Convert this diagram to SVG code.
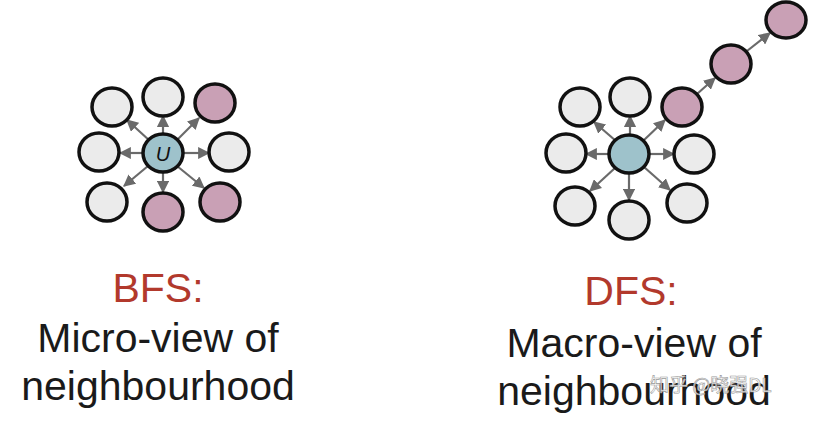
<svg xmlns="http://www.w3.org/2000/svg" width="829" height="421" viewBox="0 0 829 421">
<style>
.n{stroke:#111;stroke-width:3.5}
.g{fill:#ebebeb}.p{fill:#c9a0b5}.b{fill:#9ec2cb}
.e{stroke:#6a6a6a;stroke-width:2.2;fill:none;marker-end:url(#a)}
.t{font-family:"Liberation Sans",Arial,sans-serif;font-size:41px;text-anchor:middle;fill:#1a1a1a}
.r{fill:#b2392c}
</style>
<defs><marker id="a" viewBox="0 0 10 10" refX="9" refY="5" markerWidth="5.5" markerHeight="5.5" orient="auto" markerUnits="strokeWidth"><path d="M0,0L10,5L0,10z" fill="#6a6a6a"/></marker></defs>
<rect width="829" height="421" fill="#fff"/>
<g id="connectors">
<path class="e" d="M150,141L127,120"/><path class="e" d="M163,134L163,116"/><path class="e" d="M176,141L199,118"/>
<path class="e" d="M143,153L120,153"/><path class="e" d="M183,153L209,153"/>
<path class="e" d="M148,166L124,186"/><path class="e" d="M163,173L163,192"/><path class="e" d="M177,166L204,188"/>
<path class="e" d="M616,141L594,122"/><path class="e" d="M630,134L630,116"/><path class="e" d="M643,141L665,120"/>
<path class="e" d="M609,154L586,154"/><path class="e" d="M649,154L674,154"/>
<path class="e" d="M615,168L590,191"/><path class="e" d="M629,174L629,200"/><path class="e" d="M644,167L670,190"/>
<path class="e" d="M697,94L715,78"/><path class="e" d="M747,51L770,33"/>
</g>
<g id="bfs-u"><ellipse class="n b" cx="163" cy="153" rx="20" ry="19"/><text x="163" y="161" font-family="Liberation Sans,sans-serif" font-size="20" font-style="italic" text-anchor="middle" fill="#111">U</text></g>
<g id="bfs-1"><ellipse class="n g" cx="112" cy="107" rx="20" ry="19"/></g>
<g id="bfs-2"><ellipse class="n g" cx="163" cy="97" rx="20" ry="19"/></g>
<g id="bfs-3"><ellipse class="n p" cx="215" cy="103" rx="20" ry="19"/></g>
<g id="bfs-4"><ellipse class="n g" cx="99" cy="152" rx="20" ry="19"/></g>
<g id="bfs-5"><ellipse class="n g" cx="229" cy="152" rx="20" ry="19"/></g>
<g id="bfs-6"><ellipse class="n g" cx="107" cy="202" rx="20" ry="19"/></g>
<g id="bfs-7"><ellipse class="n p" cx="163" cy="212" rx="20" ry="19"/></g>
<g id="bfs-8"><ellipse class="n p" cx="220" cy="202" rx="20" ry="19"/></g>
<g id="dfs-u"><ellipse class="n b" cx="629" cy="154" rx="20" ry="19"/></g>
<g id="dfs-1"><ellipse class="n g" cx="580" cy="107" rx="20" ry="19"/></g>
<g id="dfs-2"><ellipse class="n g" cx="630" cy="97" rx="20" ry="19"/></g>
<g id="dfs-3"><ellipse class="n p" cx="682" cy="107" rx="20" ry="19"/></g>
<g id="dfs-4"><ellipse class="n g" cx="566" cy="153" rx="20" ry="19"/></g>
<g id="dfs-5"><ellipse class="n g" cx="694" cy="154" rx="20" ry="19"/></g>
<g id="dfs-6"><ellipse class="n g" cx="575" cy="206" rx="20" ry="19"/></g>
<g id="dfs-7"><ellipse class="n g" cx="629" cy="220" rx="20" ry="19"/></g>
<g id="dfs-8"><ellipse class="n g" cx="687" cy="203" rx="20" ry="19"/></g>
<g id="dfs-9"><ellipse class="n p" cx="731" cy="64" rx="20" ry="19"/></g>
<g id="dfs-10"><ellipse class="n p" cx="786" cy="20" rx="20" ry="18"/></g>
<g id="labels">
<text class="t r" x="158" y="302">BFS:</text>
<text class="t" x="158" y="352">Micro-view of</text>
<text class="t" x="158" y="400">neighbourhood</text>
<text class="t r" x="631" y="305">DFS:</text>
<text class="t" x="634" y="357">Macro-view of</text>
<text class="t" x="634" y="405">neighbourhood</text>
<text x="650" y="392" font-family="Noto Sans CJK SC,sans-serif" font-size="19" fill="#ffffff" fill-opacity="0.85" stroke="#999" stroke-width="0.6">知乎 @晓强DL</text>
</g>
</svg>
